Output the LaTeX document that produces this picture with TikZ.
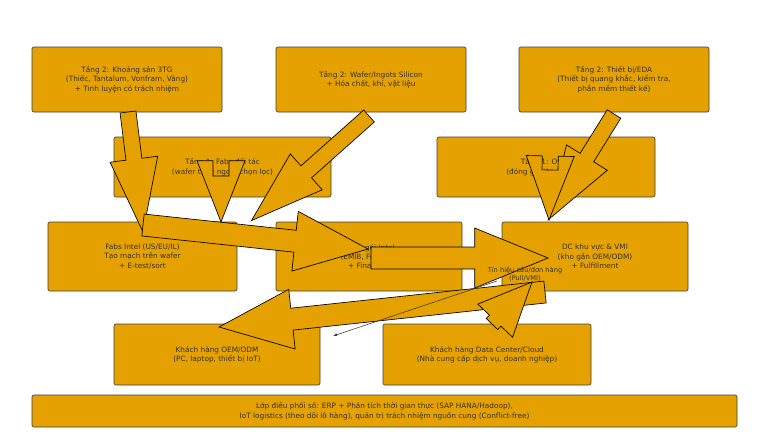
\documentclass[tikz,border=0pt]{standalone}
\usepackage{fontspec}
\setmainfont{DejaVu Sans}
\usetikzlibrary{calc,arrows.meta}
\definecolor{gold}{HTML}{E5A100}
\newcommand{\fatarr}[5]{% tail, tip, half shaft, half head, head length
  \draw[arr] let \p1=(#1), \p2=(#2), \n1={atan2(\y2-\y1,\x2-\x1)}, \n2={veclen(\x2-\x1,\y2-\y1)} in
  [shift={(\p1)}, rotate=\n1] (0,-#3) -- (\n2-#5,-#3) -- (\n2-#5,-#4) -- (\n2,0) -- (\n2-#5,#4) -- (\n2-#5,#3) -- (0,#3) -- cycle;}
\begin{document}
\begin{tikzpicture}[x=0.75pt,y=-0.75pt,
  box/.style={draw=black!75,fill=gold,rounded corners=1.5pt,line width=0.5pt,align=center,font=\fontsize{5.5}{7}\selectfont,text=black!80,inner sep=0pt},
  arr/.style={draw=black,fill=gold,line width=0.5pt,line join=miter}]
\fill[white] (0,0) rectangle (768,436);
\newcommand{\bx}[6]{\draw[box] (#2,#3) rectangle (#4,#5); \node[box,draw=none,fill=none] (#1) at ({(#2+#4)/2},{(#3+#5)/2}) {#6};}
\bx{A}{32}{47}{222}{112}{Tầng 2: Khoáng sản 3TG\\(Thiếc, Tantalum, Vonfram, Vàng)\\+ Tinh luyện có trách nhiệm}
\bx{B}{276}{47}{466}{112}{Tầng 2: Wafer/Ingots Silicon\\+ Hóa chất, khí, vật liệu}
\bx{C}{519}{47}{709}{112}{Tầng 2: Thiết bị/EDA\\(Thiết bị quang khắc, kiểm tra,\\phần mềm thiết kế)}
\bx{D}{114}{137}{331}{197}{Tầng 1: Fabs đối tác\\(wafer thuê ngoài chọn lọc)}
\bx{E}{437}{137}{655}{197}{Tầng 1: OSAT\\(đóng gói thuê ngoài)}
\bx{F}{48}{222}{237}{291}{Fabs Intel (US/EU/IL)\\Tạo mạch trên wafer\\+ E-test/sort}
\bx{G}{276}{222}{462}{291}{Đóng gói Intel\\(EMIB, Foveros)\\+ Final test}
\bx{H}{502}{222}{688}{291}{DC khu vực \& VMI\\(kho gần OEM/ODM)\\+ Fulfillment}
\bx{I}{114}{324}{320}{385}{Khách hàng OEM/ODM\\(PC, laptop, thiết bị IoT)}
\bx{J}{383}{324}{591}{385}{Khách hàng Data Center/Cloud\\(Nhà cung cấp dịch vụ, doanh nghiệp)}
\bx{K}{32}{395}{737}{427}{Lớp điều phối số: ERP + Phân tích thời gian thực (SAP HANA/Hadoop),\\IoT logistics (theo dõi lô hàng), quản trị trách nhiệm nguồn cung (Conflict-free)}
\coordinate (a1) at (128,112); \coordinate (a2) at (143,232);
\coordinate (d1) at (221,176); \coordinate (d2) at (221,222);
\coordinate (b1) at (369,116); \coordinate (b2) at (251,221);
\coordinate (c1) at (614,114); \coordinate (c2) at (548,220);
\coordinate (e1) at (550,170); \coordinate (e2) at (549,220);
\coordinate (f1) at (143,225); \coordinate (f2) at (368,249);
\coordinate (g1) at (371,258); \coordinate (g2) at (548,258);
\coordinate (h1) at (545,292); \coordinate (h2) at (219,327);
\coordinate (j1) at (492,324); \coordinate (j2) at (532,282);
\fatarr{a1}{a2}{8}{24}{55}
\fatarr{d1}{d2}{8}{24}{46}
\fatarr{b1}{b2}{8}{24}{55}
\fatarr{c1}{c2}{8}{24}{55}
\fatarr{e1}{e2}{8}{24}{48}
\fatarr{f1}{f2}{11}{30}{55}
\fatarr{g1}{g2}{11}{30}{55}
\fatarr{h1}{h2}{11}{30}{55}
\fatarr{j1}{j2}{8}{24}{40}
\coordinate (t1) at (497,281); \coordinate (t2) at (333,336);
\draw[-{Latex[length=3pt,width=2pt]},line width=0.4pt,black!80] (t1) -- (t2);
\node[font=\fontsize{5}{6}\selectfont,align=center,text=black!80] (lbl) at (525,274) {Tín hiệu cầu/đơn hàng\\(Pull/VMI)};
\end{tikzpicture}
\end{document}
